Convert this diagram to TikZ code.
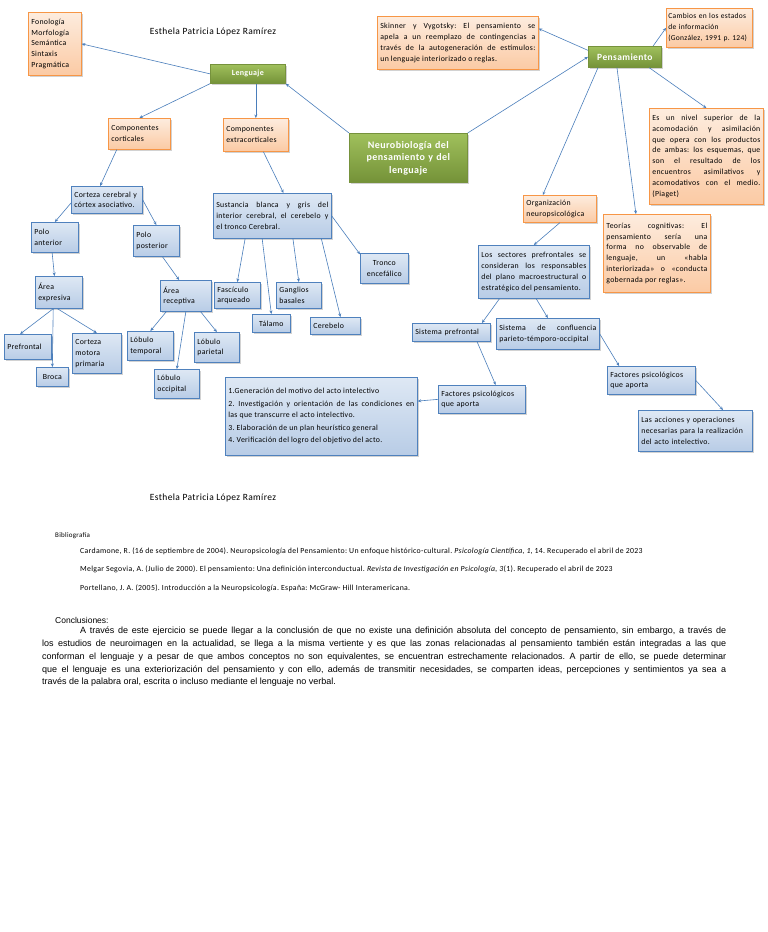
\documentclass[tikz,border=0pt]{standalone}
\usepackage{fontspec}
\setmainfont{Carlito}[LetterSpace=4]
\newfontfamily\arialf{Liberation Sans}
\usetikzlibrary{arrows.meta,shadows}
\definecolor{azulb}{RGB}{79,129,189}
\definecolor{azulc}{RGB}{222,232,244}
\definecolor{azulo}{RGB}{184,204,230}
\definecolor{naranjab}{RGB}{247,150,70}
\definecolor{naranjac}{RGB}{253,236,222}
\definecolor{naranjao}{RGB}{251,202,164}
\definecolor{verdeb}{RGB}{118,146,60}
\definecolor{verdec}{RGB}{160,192,92}
\definecolor{verdeo}{RGB}{116,146,56}
\definecolor{flechac}{RGB}{74,126,187}
\tikzset{
  caja/.style={anchor=north west, inner xsep=3pt, inner ysep=2pt, line width=0.7pt,
    font=\fontsize{7.8}{10.8}\selectfont, align=left,
    drop shadow={opacity=0.35, shadow xshift=1.2pt, shadow yshift=-1.2pt}},
  azul/.style={caja, draw=azulb, top color=azulc, bottom color=azulo},
  naranja/.style={caja, draw=naranjab, top color=naranjac, bottom color=naranjao},
  verde/.style={caja, draw=verdeb, top color=verdec, bottom color=verdeo, text=white, align=center},
  flecha/.style={draw=flechac, line width=0.6pt, -{Stealth[length=3.5pt,width=3pt]}}
}
\begin{document}
\frenchspacing
\hyphenpenalty=10000
\begin{tikzpicture}[x=1pt,y=-1pt]
\fill[white] (0,0) rectangle (768,932);
\useasboundingbox (0,0) rectangle (768,932);
%Lenguaje
\node[naranja, text width=47pt, minimum height=63pt] (fono) at (28,12) {Fonología\\Morfología\\Semántica\\Sintaxis\\Pragmática};
\node[verde, text width=69pt, minimum height=19pt, font=\fontsize{8}{9}\selectfont\bfseries] (leng) at (210,64) {Lenguaje};
\node[naranja, text width=56pt, minimum height=31pt] (compc) at (108,118) {Componentes\\corticales};
\node[naranja, text width=59pt, minimum height=33pt] (compe) at (223,118) {Componentes\\extracorticales};
\node[verde, text width=112pt, minimum height=49pt, font=\fontsize{10}{12.5}\selectfont\bfseries] (neuro) at (349,133) {Neurobiología del\\pensamiento y del\\lenguaje};
\node[azul, text width=65pt, minimum height=27pt] (cort) at (71,186) {Corteza cerebral y\\córtex asociativo.};
\node[azul, text width=41pt, minimum height=30pt] (poloa) at (31,222) {Polo\\anterior};
\node[azul, text width=40pt, minimum height=31pt] (polop) at (133,225) {Polo\\posterior};
\node[azul, text width=41pt, minimum height=32pt] (areae) at (35,276) {Área\\expresiva};
\node[azul, text width=45pt, minimum height=31pt] (arear) at (160,280) {Área\\receptiva};
\node[azul, text width=41pt, minimum height=25pt] (pref) at (4,334) {Prefrontal};
\node[azul, text width=26pt, minimum height=19pt, align=center] (broca) at (36,367) {Broca};
\node[azul, text width=43pt, minimum height=40pt] (motora) at (72,333) {Corteza\\motora\\primaria};
\node[azul, text width=40pt, minimum height=29pt] (ltemp) at (127,331) {Lóbulo\\temporal};
\node[azul, text width=39pt, minimum height=29pt] (locc) at (154,369) {Lóbulo\\occipital};
\node[azul, text width=39pt, minimum height=30pt] (lpar) at (194,332) {Lóbulo\\parietal};
\node[azul, text width=112pt, minimum height=45pt, align=justify] (sust) at (213,193) {Sustancia blanca y gris del\linebreak interior cerebral, el cerebelo y\linebreak el tronco Cerebral.};
\node[azul, text width=42pt, minimum height=30pt, align=center] (tronco) at (360,253) {Tronco\\encefálico};
\node[azul, text width=40pt, minimum height=26pt] (fasc) at (214,282) {Fascículo\\arqueado};
\node[azul, text width=32pt, minimum height=18pt, align=center] (tal) at (252,314) {Tálamo};
\node[azul, text width=39pt, minimum height=26pt] (gang) at (276,282) {Ganglios\\basales};
\node[azul, text width=44pt, minimum height=17pt] (cereb) at (310,317) {Cerebelo};
%Pensamiento
\node[verde, text width=67pt, minimum height=21pt, font=\fontsize{9.5}{11}\selectfont\bfseries] (pens) at (588,46) {Pensamiento};
\node[naranja, text width=155pt, minimum height=53pt, align=justify] (skin) at (377,16) {Skinner y Vygotsky: El pensamiento se\linebreak apela a un reemplazo de contingencias a\linebreak través de la autogeneración de estímulos:\linebreak un lenguaje interiorizado o reglas.};
\node[naranja, text width=82pt, inner xsep=2pt, minimum height=39pt, font=\fontsize{7.5}{11}\selectfont] (camb) at (666,8) {Cambios en los estados\\de información\\(González, 1991 p. 124)};
\node[naranja, text width=108pt, minimum height=96pt, align=justify] (nivel) at (649,108) {Es un nivel superior de la\linebreak acomodación y asimilación\linebreak que opera con los productos\linebreak de ambas: los esquemas, que\linebreak son el resultado de los\linebreak encuentros asimilativos y\linebreak acomodativos con el medio.\linebreak (Piaget)};
\node[naranja, text width=67pt, minimum height=27pt] (orgn) at (523,195) {Organización\\neuropsicológica};
\node[naranja, text width=101pt, minimum height=78pt, align=justify] (teor) at (603,214) {Teorías cognitivas: El\linebreak pensamiento sería una\linebreak forma no observable de\linebreak lenguaje, un «habla\linebreak interiorizada» o «conducta\linebreak gobernada por reglas».};
\node[azul, text width=105pt, minimum height=53pt, align=justify] (sect) at (478,245) {Los sectores prefrontales se\linebreak consideran los responsables\linebreak del plano macroestructural o\linebreak estratégico del pensamiento.};
\node[azul, text width=72pt, minimum height=18pt] (sispf) at (412,323) {Sistema prefrontal};
\node[azul, text width=97pt, minimum height=31pt, align=justify] (sisconf) at (496,318) {Sistema de confluencia\linebreak parieto-témporo-occipital};
\node[azul, text width=82pt, minimum height=28pt] (factr) at (607,366) {Factores psicológicos\\que aporta};
\node[azul, text width=108pt, minimum height=41pt] (acc) at (638,410) {Las acciones y operaciones\\necesarias para la realización\\del acto intelectivo.};
\node[azul, text width=81pt, minimum height=28pt] (factl) at (438,385) {Factores psicológicos\\que aporta};
\node[azul, text width=186pt, minimum height=78pt, align=justify] (lista) at (225,377) {1.Generación del motivo del acto intelectivo\\[2pt]
2. Investigación y orientación de las condiciones en\linebreak las que transcurre el acto intelectivo.\\[2pt]
3. Elaboración de un plan heurístico general\\[2pt]
4. Verificación del logro del objetivo del acto.};
%Flechas
\draw[flecha] (leng.west) -- (fono.east);
\draw[flecha] (leng.south west) -- (compc.north);
\draw[flecha] (leng.south -| compe.north) -- (compe.north);
\draw[flecha] (neuro.north west) -- (leng.south east);
\draw[flecha] (neuro.north east) -- (pens.west);
\draw[flecha] (compc.-145) -- (cort.116);
\draw[flecha] (cort.185) -- (poloa.north);
\draw[flecha] (cort.east) -- (polop.north);
\draw[flecha] (poloa.-100) -- (areae.105);
\draw[flecha] (polop.-69) -- (arear.113);
\draw[flecha] (areae.-109) -- (pref.121);
\draw[flecha] (areae.-109) -- (broca.north);
\draw[flecha] (areae.-95) -- (motora.north);
\draw[flecha] (arear.-141) -- (ltemp.north);
\draw[flecha] (arear.south) -- (locc.north);
\draw[flecha] (arear.-47) -- (lpar.north);
\draw[flecha] (compe.-66) -- (sust.64);
\draw[flecha] (sust.east) -- (tronco.150);
\draw[flecha] (sust.-140) -- (fasc.north);
\draw[flecha] (sust.-114) -- (tal.north);
\draw[flecha] (sust.-48) -- (gang.north);
\draw[flecha] (sust.-25) -- (cereb.60);
\draw[flecha] (pens.170) -- (skin.10);
\draw[flecha] (pens.21) -- (camb.west);
\draw[flecha] (pens.-24) -- (nivel.north);
\draw[flecha] (pens.-158) -- (orgn.141);
\draw[flecha] (pens.-126) -- (teor.118);
\draw[flecha] (orgn.south) -- (sect.north);
\draw[flecha] (sect.-142) -- (sispf.17);
\draw[flecha] (sect.-85) -- (sisconf.north);
\draw[flecha] (sisconf.east) -- (factr.156);
\draw[flecha] (factr.east) -- (acc.37);
\draw[flecha] (sispf.-20) -- (factl.46);
\draw[flecha] (factl.west) -- (lista.9);
%Text
\node[font=\fontsize{9.5}{12}\selectfont] (autor) at (213,32) {Esthela Patricia López Ramírez};
\node[font=\fontsize{9.5}{12}\selectfont] (autorb) at (213,498) {Esthela Patricia López Ramírez};
\node[anchor=west, inner sep=0pt, font=\fontsize{7}{8}\selectfont] (biblio) at (55,536) {Bibliografía};
\node[anchor=west, inner sep=0pt, font=\fontsize{7.8}{8}\selectfont] (refa) at (80,551) {Cardamone, R. (16 de septiembre de 2004). Neuropsicología del Pensamiento: Un enfoque histórico-cultural. \textit{Psicología Científica, 1}, 14. Recuperado el abril de 2023};
\node[anchor=west, inner sep=0pt, font=\fontsize{7.8}{8}\selectfont] (refb) at (80,569) {Melgar Segovia, A. (Julio de 2000). El pensamiento: Una definición interconductual. \textit{Revista de Investigación en Psicología, 3}(1). Recuperado el abril de 2023};
\node[anchor=west, inner sep=0pt, font=\fontsize{7.8}{8}\selectfont] (refc) at (80,588) {Portellano, J. A. (2005). Introducción a la Neuropsicología. España: McGraw- Hill Interamericana.};
\node[anchor=west, inner sep=0pt, font=\arialf\fontsize{8.5}{10}\selectfont] (concl) at (55,620) {Conclusiones:};
\node[anchor=north west, inner sep=0pt, text width=684pt, align=justify, font=\arialf\fontsize{9}{12.75}\selectfont] (parr) at (42,627) {\hspace*{38pt}A través de este ejercicio se puede llegar a la conclusión de que no existe una definición absoluta del concepto de pensamiento, sin embargo, a través de\linebreak los estudios de neuroimagen en la actualidad, se llega a la misma vertiente y es que las zonas relacionadas al pensamiento también están integradas a las que\linebreak conforman el lenguaje y a pesar de que ambos conceptos no son equivalentes, se encuentran estrechamente relacionados. A partir de ello, se puede determinar\linebreak que el lenguaje es una exteriorización del pensamiento y con ello, además de transmitir necesidades, se comparten ideas, percepciones y sentimientos ya sea a\linebreak través de la palabra oral, escrita o incluso mediante el lenguaje no verbal.};
\end{tikzpicture}
\end{document}
